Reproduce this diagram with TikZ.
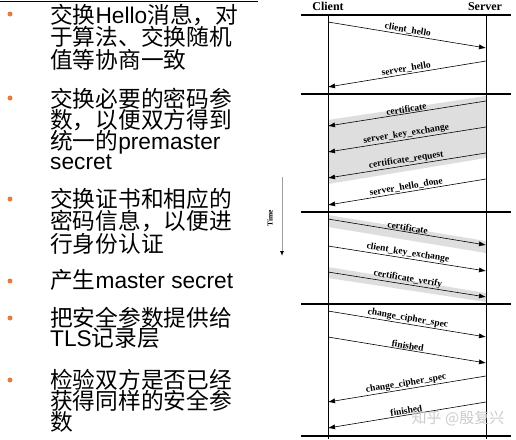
\documentclass[tikz,border=0pt]{standalone}
\usepackage{fontspec}
\setmainfont{Liberation Sans}
\newfontfamily\cjk{Noto Sans CJK SC}
\newfontfamily\tms{Liberation Serif}
\usetikzlibrary{arrows.meta}
\definecolor{bulletorange}{RGB}{232,122,58}
\definecolor{bandgray}{RGB}{222,222,222}
\begin{document}
\begin{tikzpicture}[x=1pt,y=-1pt,
  txtline/.style={anchor=base west, inner sep=0pt, text height=16pt, text depth=3pt, font=\fontsize{22.7}{22}\selectfont},
  dot/.style={circle, fill=bulletorange, inner sep=0pt, minimum size=5pt},
  msg/.style={-{Latex[length=7pt,width=5pt]}, line width=0.6pt},
  lbl/.style={font=\tms\bfseries\fontsize{9.5}{10}\selectfont, sloped, above, inner sep=0.8pt, midway},
  sepline/.style={line width=2pt},
  life/.style={line width=0.6pt},
  band/.style={fill=bandgray},
  hdr/.style={font=\tms\bfseries\fontsize{12}{13}\selectfont, inner sep=0pt}
]
\fill[white] (0,0) rectangle (516,439);
\useasboundingbox (0,0) rectangle (516,439);

% ---------- left panel ----------
\coordinate (tl1) at (0,1.5);
\coordinate (tl2) at (258,1.5);
\draw[line width=1.2pt] (tl1) -- (tl2);

\node[dot] (b1) at (10,14) {};
\node[txtline] (l11) at (50,23) {{\cjk 交换}Hello{\cjk 消息，对}};
\node[txtline] (l12) at (50,45.5) {\cjk 于算法、交换随机};
\node[txtline] (l13) at (50,68) {\cjk 值等协商一致};

\node[dot] (b2) at (10,98) {};
\node[txtline] (l21) at (50,107.5) {\cjk 交换必要的密码参};
\node[txtline] (l22) at (50,128.5) {\cjk 数，以便双方得到};
\node[txtline] (l23) at (50,149) {{\cjk 统一的}premaster};
\node[txtline] (l24) at (50,169.5) {secret};

\node[dot] (b3) at (10,199) {};
\node[txtline] (l31) at (50,207) {\cjk 交换证书和相应的};
\node[txtline] (l32) at (50,229.5) {\cjk 密码信息，以便进};
\node[txtline] (l33) at (50,252) {\cjk 行身份认证};

\node[dot] (b4) at (10,281) {};
\node[txtline] (l41) at (50,288.5) {{\cjk 产生}master secret};

\node[dot] (b5) at (10,318) {};
\node[txtline] (l51) at (50,326.5) {\cjk 把安全参数提供给};
\node[txtline] (l52) at (50,346) {TLS{\cjk 记录层}};

\node[dot] (b6) at (10,380) {};
\node[txtline] (l61) at (50,388) {\cjk 检验双方是否已经};
\node[txtline] (l62) at (50,409) {\cjk 获得同样的安全参};
\node[txtline] (l63) at (50,430) {\cjk 数};

% ---------- right panel ----------
\node[hdr] (client) at (328,6.5) {Client};
\node[hdr] (server) at (485,6.5) {Server};

% bands
\fill[band] (328,120) -- (486,96) -- (486,158) -- (328,184) -- cycle;
\fill[band] (328,215) -- (486,241) -- (486,253) -- (328,227) -- cycle;
\fill[band] (328,267) -- (486,293) -- (486,302) -- (328,278) -- cycle;

% lifelines
\coordinate (cT) at (328,15);
\coordinate (cB) at (328,439);
\coordinate (sT) at (486,15);
\coordinate (sB) at (486,439);
\draw[life] (cT) -- (cB);
\draw[life] (sT) -- (sB);

% separators
\foreach \yy/\nm in {15/h1, 94/h2, 212/h3, 304/h4, 436/h5} {
  \coordinate (\nm a) at (301,\yy);
  \coordinate (\nm b) at (511,\yy);
  \draw[sepline] (\nm a) -- (\nm b);
}

% messages
\coordinate (m1a) at (328,22);  \coordinate (m1b) at (486,48);
\coordinate (m2a) at (486,61);  \coordinate (m2b) at (328,87);
\coordinate (m3a) at (486,101); \coordinate (m3b) at (328,126);
\coordinate (m4a) at (486,127); \coordinate (m4b) at (328,152);
\coordinate (m5a) at (486,153); \coordinate (m5b) at (328,178);
\coordinate (m6a) at (486,179); \coordinate (m6b) at (328,205);
\coordinate (m7a) at (328,219); \coordinate (m7b) at (486,245);
\coordinate (m8a) at (328,246); \coordinate (m8b) at (486,271);
\coordinate (m9a) at (328,272); \coordinate (m9b) at (486,297);
\coordinate (m10a) at (328,311); \coordinate (m10b) at (486,337);
\coordinate (m11a) at (328,337); \coordinate (m11b) at (486,363);
\coordinate (m12a) at (486,376); \coordinate (m12b) at (328,402);
\coordinate (m13a) at (486,402); \coordinate (m13b) at (328,428);

\draw[msg] (m1a) -- node[lbl] {client\_hello} (m1b);
\draw[msg] (m2a) -- node[lbl] {server\_hello} (m2b);
\draw[msg] (m3a) -- node[lbl] {certificate} (m3b);
\draw[msg] (m4a) -- node[lbl] {server\_key\_exchange} (m4b);
\draw[msg] (m5a) -- node[lbl] {certificate\_request} (m5b);
\draw[msg] (m6a) -- node[lbl] {server\_hello\_done} (m6b);
\draw[msg] (m7a) -- node[lbl] {certificate} (m7b);
\draw[msg] (m8a) -- node[lbl] {client\_key\_exchange} (m8b);
\draw[msg] (m9a) -- node[lbl] {certificate\_verify} (m9b);
\draw[msg] (m10a) -- node[lbl] {change\_cipher\_spec} (m10b);
\draw[msg] (m11a) -- node[lbl] {finished} (m11b);
\draw[msg] (m12a) -- node[lbl] {change\_cipher\_spec} (m12b);
\draw[msg] (m13a) -- node[lbl] {finished} (m13b);

% time arrow
\coordinate (ta) at (282,177);
\coordinate (tb) at (282,256);
\draw[draw=gray!75, line width=0.9pt, -{Latex[length=5pt,width=4pt,color=black]}] (ta) -- (tb);
\node[font=\tms\bfseries\fontsize{7.5}{8}\selectfont, rotate=90, inner sep=0pt] (time) at (270,218) {Time};

% watermark
\node[text=gray!40, font=\cjk\fontsize{15}{15}\selectfont, inner sep=0pt] (wm) at (458,418) {知乎 @殷复兴};
\end{tikzpicture}
\end{document}
